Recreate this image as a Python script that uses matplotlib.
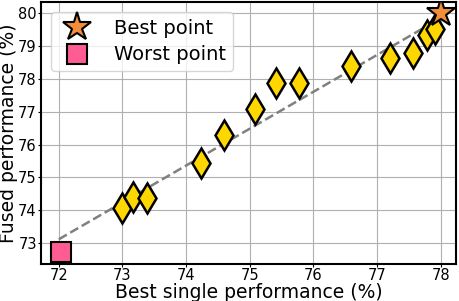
import numpy as np
import matplotlib.pyplot as plt

# best single performance vs fused performance (%)
single = [73.00, 73.16, 73.38, 74.24, 74.60, 75.09, 75.41, 75.78, 76.60, 77.21, 77.57, 77.78, 77.92]
fused = [74.06, 74.40, 74.36, 75.45, 76.30, 77.07, 77.89, 77.89, 78.40, 78.64, 78.79, 79.34, 79.52]
best = (78.00, 80.00)
worst = (72.03, 72.72)

# dashed trend line
all_x = [worst[0]] + single + [best[0]]
all_y = [worst[1]] + fused + [best[1]]
k, b = np.polyfit(all_x, all_y, 1)
line_x = np.array([72.0, 77.9])

fig, ax = plt.subplots(figsize=(4.6, 3.01), dpi=100)
ax.grid(True, color='#b0b0b0', linewidth=0.8, zorder=0)
ax.plot(line_x, k * line_x + b, '--', color='gray', linewidth=1.8, zorder=2)
ax.plot(single, fused, 'd', color='#FFD700', markeredgecolor='black',
        markeredgewidth=1.8, markersize=15, linestyle='none', zorder=3)
ax.plot(best[0], best[1], '*', color='#F28E3B', markeredgecolor='black',
        markeredgewidth=1.5, markersize=21, linestyle='none', zorder=4, label='Best point')
ax.plot(worst[0], worst[1], 's', color='#FF5C93', markeredgecolor='black',
        markeredgewidth=1.5, markersize=14, linestyle='none', zorder=4, label='Worst point')

ax.set_xlim(71.72, 78.24)
ax.set_ylim(72.36, 80.34)
ax.set_xticks([72, 73, 74, 75, 76, 77, 78])
ax.set_yticks([73, 74, 75, 76, 77, 78, 79, 80])
ax.tick_params(labelsize=10.5, length=2, pad=1)
for s in ax.spines.values():
    s.set_linewidth(1.5)
ax.set_xlabel('Best single performance (%)', fontsize=13.5, labelpad=0)
ax.set_ylabel('Fused performance (%)', fontsize=13.5, labelpad=0)
ax.legend(loc='upper left', fontsize=14, handletextpad=0.9, borderpad=0.35,
          labelspacing=0.4)

fig.subplots_adjust(left=0.089, right=0.991, bottom=0.123, top=0.993)
fig.savefig('out.png')
